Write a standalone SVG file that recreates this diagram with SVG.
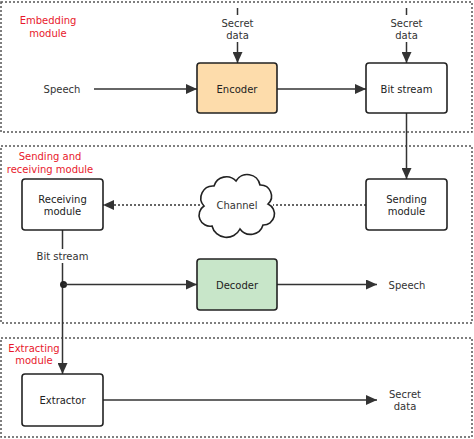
<svg xmlns="http://www.w3.org/2000/svg" width="474" height="439" viewBox="0 0 474 439">
<style>
  .panel{fill:none;stroke:#555;stroke-width:1.5;stroke-dasharray:2 2}
  .box{stroke:#222;stroke-width:1.6}
  .t{font-family:"DejaVu Sans",sans-serif;font-size:10px;fill:#333;text-anchor:middle}
  .r{font-family:"DejaVu Sans",sans-serif;font-size:10px;fill:#e8192c;text-anchor:middle}
  .c{stroke:#333;stroke-width:1.5;fill:none}
  .d{stroke:#333;stroke-width:1.5;fill:none;stroke-dasharray:2 2}
</style>
<defs>
  <marker id="ah" markerUnits="userSpaceOnUse" markerWidth="12" markerHeight="10" refX="11" refY="5" orient="auto">
    <path d="M0,0 L11,5 L0,10 Z" fill="#333"/>
  </marker>
</defs>
<rect width="474" height="439" fill="#fff"/>
<g id="panels">
  <rect class="panel" x="1" y="2" width="471" height="130"/>
  <rect class="panel" x="1" y="146" width="471" height="177"/>
  <rect class="panel" x="1" y="338" width="471" height="99"/>
  <text class="r" x="48" y="23.5">Embedding</text>
  <text class="r" x="48" y="36.5">module</text>
  <text class="r" x="50" y="160">Sending and</text>
  <text class="r" x="50" y="173">receiving module</text>
  <text class="r" x="34" y="351.5">Extracting</text>
  <text class="r" x="34" y="364">module</text>
</g>
<g id="connectors">
  <line class="c" x1="94" y1="89" x2="197" y2="89" marker-end="url(#ah)"/>
  <line class="c" x1="237.5" y1="8" x2="237.5" y2="63" marker-end="url(#ah)"/>
  <line class="c" x1="406.5" y1="8" x2="406.5" y2="63" marker-end="url(#ah)"/>
  <line class="c" x1="277" y1="89" x2="366" y2="89" marker-end="url(#ah)"/>
  <line class="c" x1="406.5" y1="113" x2="406.5" y2="179" marker-end="url(#ah)"/>
  <line class="d" x1="366" y1="205" x2="273" y2="205"/>
  <line class="d" x1="200" y1="205" x2="103" y2="205" marker-end="url(#ah)"/>
  <line class="c" x1="62.5" y1="230" x2="62.5" y2="374" marker-end="url(#ah)"/>
  <circle cx="63.5" cy="284.5" r="3.5" fill="#222"/>
  <line class="c" x1="63.5" y1="284.5" x2="197" y2="284.5" marker-end="url(#ah)"/>
  <line class="c" x1="277" y1="284.5" x2="377" y2="284.5" marker-end="url(#ah)"/>
  <line class="c" x1="103" y1="400" x2="377" y2="400" marker-end="url(#ah)"/>
  <rect x="210" y="15" width="55" height="27" fill="#fff"/>
  <rect x="379" y="15" width="55" height="27" fill="#fff"/>
  <rect x="32" y="249" width="62" height="14" fill="#fff"/>
  <text class="t" x="237.5" y="26.5">Secret</text>
  <text class="t" x="237.5" y="39">data</text>
  <text class="t" x="406.5" y="26.5">Secret</text>
  <text class="t" x="406.5" y="39">data</text>
  <text class="t" x="62.5" y="259.5">Bit stream</text>
</g>
<g id="speech-in"><text class="t" x="62" y="92.5">Speech</text></g>
<g id="encoder">
  <rect class="box" x="197" y="63" width="80" height="50" rx="3" fill="#fddcab"/>
  <text class="t" x="237" y="92.5" style="fill:#222">Encoder</text>
</g>
<g id="bitstream">
  <rect class="box" x="366" y="63" width="81" height="50" rx="3" fill="#fff"/>
  <text class="t" x="406.5" y="92.5" style="fill:#222">Bit stream</text>
</g>
<g id="sending">
  <rect class="box" x="366" y="179" width="81" height="51" rx="3" fill="#fff"/>
  <text class="t" x="406.5" y="202.5" style="fill:#222">Sending</text>
  <text class="t" x="406.5" y="214.5" style="fill:#222">module</text>
</g>
<g id="channel">
  <path class="box" fill="#fff" d="M212,226 A11,11 0 0 1 204,206 A12,12 0 0 1 214,186 A13,13 0 0 1 236,181 A13,13 0 0 1 260,185 A11,11 0 0 1 268,204 A11,11 0 0 1 263,225 A13,13 0 0 1 240,229 A15,15 0 0 1 212,226 Z"/>
  <text class="t" x="237" y="208.5">Channel</text>
</g>
<g id="receiving">
  <rect class="box" x="22" y="179" width="81" height="51" rx="3" fill="#fff"/>
  <text class="t" x="62.5" y="202.5" style="fill:#222">Receiving</text>
  <text class="t" x="62.5" y="214.5" style="fill:#222">module</text>
</g>
<g id="decoder">
  <rect class="box" x="197" y="259" width="80" height="51" rx="3" fill="#c8e6c9"/>
  <text class="t" x="237" y="288.5" style="fill:#222">Decoder</text>
</g>
<g id="speech-out"><text class="t" x="407" y="288.5">Speech</text></g>
<g id="extractor">
  <rect class="box" x="22" y="374" width="81" height="52" rx="3" fill="#fff"/>
  <text class="t" x="62.5" y="404" style="fill:#222">Extractor</text>
</g>
<g id="secret-out">
  <text class="t" x="405" y="397.5">Secret</text>
  <text class="t" x="405" y="410">data</text>
</g>
</svg>
